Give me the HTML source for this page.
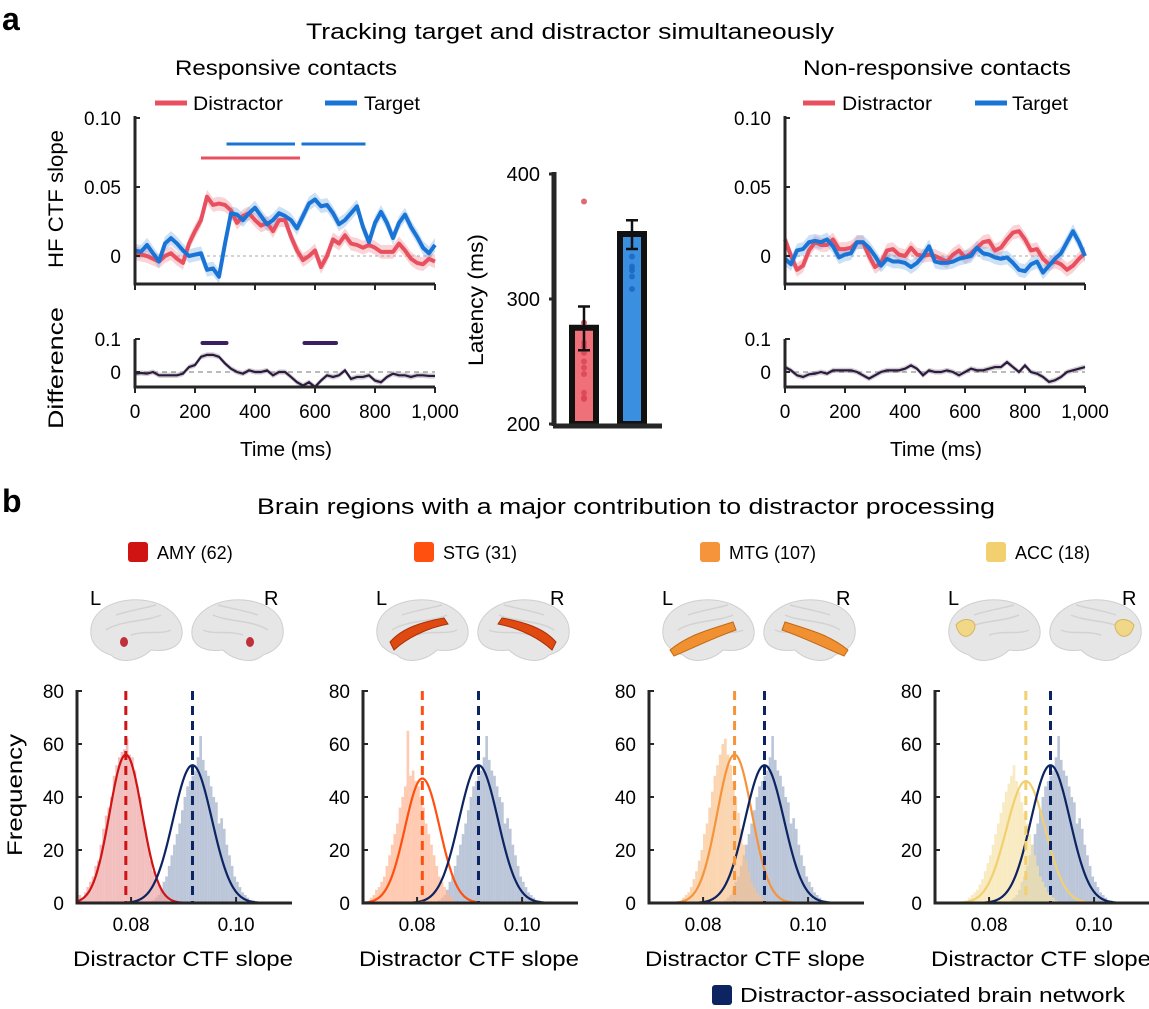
<!DOCTYPE html>
<html><head><meta charset="utf-8"><style>
body{margin:0;background:#fff}
svg{display:block;font-family:"Liberation Sans",Arial,sans-serif}
</style></head><body>
<svg id="fig" width="1149" height="1009" viewBox="0 0 1149 1009">
<text x="2" y="30" font-size="32" font-weight="bold">a</text>
<text x="570" y="39" font-size="22" text-anchor="middle" textLength="528" lengthAdjust="spacingAndGlyphs">Tracking target and distractor simultaneously</text>
<text x="286" y="75" font-size="21" text-anchor="middle" textLength="222" lengthAdjust="spacingAndGlyphs">Responsive contacts</text>
<text x="937" y="75" font-size="21" text-anchor="middle" textLength="268" lengthAdjust="spacingAndGlyphs">Non-responsive contacts</text>
<g>
<line x1="155" y1="103" x2="187" y2="103" stroke="#e8505f" stroke-width="5"/><text x="193" y="110" font-size="19" textLength="90" lengthAdjust="spacingAndGlyphs">Distractor</text>
<line x1="325" y1="103" x2="357" y2="103" stroke="#1a74d6" stroke-width="5"/><text x="364" y="110" font-size="19" textLength="56" lengthAdjust="spacingAndGlyphs">Target</text>
</g>
<g>
<line x1="803" y1="103" x2="835" y2="103" stroke="#e8505f" stroke-width="5"/><text x="842" y="110" font-size="19" textLength="90" lengthAdjust="spacingAndGlyphs">Distractor</text>
<line x1="975" y1="103" x2="1007" y2="103" stroke="#1a74d6" stroke-width="5"/><text x="1012" y="110" font-size="19" textLength="56" lengthAdjust="spacingAndGlyphs">Target</text>
</g>
<text transform="translate(63,199) rotate(-90)" font-size="21" text-anchor="middle" textLength="138" lengthAdjust="spacingAndGlyphs">HF CTF slope</text>
<text transform="translate(63,368) rotate(-90)" font-size="21" text-anchor="middle" textLength="122" lengthAdjust="spacingAndGlyphs">Difference</text>
<text x="286" y="456" font-size="20" text-anchor="middle" textLength="92" lengthAdjust="spacingAndGlyphs">Time (ms)</text>
<text x="936" y="456" font-size="20" text-anchor="middle" textLength="92" lengthAdjust="spacingAndGlyphs">Time (ms)</text>
<text transform="translate(483,300) rotate(-90)" font-size="21" text-anchor="middle" textLength="132" lengthAdjust="spacingAndGlyphs">Latency (ms)</text>
<text x="2" y="512" font-size="32" font-weight="bold">b</text>
<text x="626" y="514" font-size="22" text-anchor="middle" textLength="738" lengthAdjust="spacingAndGlyphs">Brain regions with a major contribution to distractor processing</text>
<text transform="translate(22,795) rotate(-90)" font-size="21" text-anchor="middle" textLength="122" lengthAdjust="spacingAndGlyphs">Frequency</text>
<rect x="712" y="985" width="20" height="20" rx="3" fill="#0c2461"/>
<text x="740" y="1002" font-size="20" textLength="385" lengthAdjust="spacingAndGlyphs">Distractor-associated brain network</text>
<g id="g"></g>
</svg>
<script>
// ---- Panel a data (20 ms steps, 0..1000 ms) ----
const timeTicks=[0,200,400,600,800,1000];
const timeTickLabels=["0","200","400","600","800","1,000"];
const leftDistractor=[0.002,0.001,0,-0.002,-0.004,0,0.002,-0.002,-0.005,0.009,0.018,0.026,0.043,0.037,0.038,0.037,0.033,0.024,0.029,0.031,0.026,0.022,0.024,0.018,0.026,0.026,0.014,0.004,-0.003,0,0.004,-0.008,0,0.012,0.009,0.015,0.009,0.008,0.006,0.008,0.006,0.003,0.003,0.003,0.009,0.004,-0.002,-0.005,-0.006,-0.002,-0.004];
const leftTarget=[0.004,0.003,0.008,0.002,-0.004,0.009,0.013,0.009,0.004,0,0.001,0.002,-0.010,-0.009,-0.015,0.009,0.031,0.030,0.026,0.031,0.035,0.029,0.023,0.026,0.031,0.029,0.026,0.020,0.029,0.038,0.041,0.036,0.037,0.031,0.023,0.026,0.031,0.036,0.021,0.010,0.024,0.032,0.024,0.013,0.024,0.030,0.021,0.014,0.006,0.002,0.008];
const leftDiff=[-0.005,-0.003,-0.005,0,-0.010,-0.010,-0.010,-0.010,-0.005,0.015,0.021,0.046,0.052,0.052,0.046,0.026,0.010,0,-0.005,0.005,0,0,0.005,-0.010,0,0,-0.015,-0.031,-0.041,-0.031,-0.045,-0.026,-0.010,-0.015,-0.010,0.005,-0.021,-0.015,-0.015,-0.010,-0.026,-0.031,-0.015,-0.005,-0.010,-0.010,-0.015,-0.010,-0.010,-0.012,-0.012];
const rightDistractor=[0.012,0,-0.010,-0.007,0.004,0.010,0.008,0.008,0.012,0.005,0.005,0.006,0.010,0.010,0,-0.008,-0.005,0.004,0.005,0.001,0,0.006,0.001,0,0.001,0,-0.002,-0.004,0.001,0.004,-0.001,0.002,0.006,0.010,0.011,0.004,0.006,0.012,0.017,0.018,0.012,0.004,0.005,-0.002,-0.006,-0.004,-0.006,-0.010,-0.007,-0.002,0.002];
const rightTarget=[-0.002,-0.006,0.004,0.005,0.010,0.011,0.010,0.012,0.007,-0.001,0.001,0.002,0.010,0.010,0.006,0,-0.007,-0.002,-0.004,-0.004,-0.005,-0.008,-0.005,0,0.007,-0.004,-0.005,-0.005,-0.004,-0.002,-0.001,0,0.006,0.002,0.001,-0.001,-0.002,-0.001,-0.005,-0.010,-0.011,-0.006,-0.004,-0.012,-0.007,-0.002,0.002,0.010,0.018,0.010,0];
const rightDiff=[0.015,0.005,-0.010,-0.015,-0.007,-0.005,0,-0.005,0.005,0.005,0.005,0.005,0,-0.010,-0.020,-0.010,0,0.005,0.005,0.005,0.010,0.020,0.010,-0.010,0.005,0,0,0.005,0,-0.010,0,0.010,0.005,0.005,0.010,0.015,0.015,0.030,0.015,0,0.020,0,-0.005,-0.015,-0.030,-0.025,-0.015,0,0.005,0.010,0.015];
const sigDistractor=[[220,550]];
const sigTarget=[[305,540],[555,775]];
const sigDiff=[[225,305],[565,670]];
// latency bars
const latencyCats=["Distractor","Target"];
const latencyMeans=[277,352];
const latencyErrLow=[259,340];
const latencyErrHigh=[294,363];
const latencyDotsD=[378,281,265,262,257,250,245,240,225,221,220];
const latencyDotsT=[334,326,323,318,308];
const latencyTicks=[200,300,400];
// ---- Panel b data ----
const regionNames=["AMY (62)","STG (31)","MTG (107)","ACC (18)"];
const regionColors=["#d01414","#ff5010","#f5943a","#f2d070"];
const regionFill=["#eea2a2","#ffb490","#f9c28e","#f7e2a6"];
const regionMean=[0.079,0.081,0.086,0.087];
const regionSD=[0.0031,0.0033,0.0033,0.0037];
const regionPeak=[56,47,56,46];
const regionHistStart=[0.070,0.071,0.076,0.076];
const regionHist=[
[3,2,4,6,8,10,14,16,22,28,33,36,40,48,52,55,57,58,62,56,55,50,44,40,32,28,22,16,12,8,7,5,3,2],
[2,3,5,6,8,10,14,18,22,26,30,36,40,44,65,48,50,46,44,40,36,30,26,22,18,14,10,8,6,4,3,2],
[2,3,4,6,9,12,16,20,26,30,36,42,48,52,56,60,62,56,52,46,40,34,28,22,16,12,8,6,4,3,2,1],
[2,3,4,5,7,9,12,15,18,22,26,30,34,38,42,45,48,52,46,42,38,34,30,26,22,18,14,10,8,6,4,3,2,1]];
const networkMean=0.0917, networkSD=0.0037, networkPeak=52;
const networkHistStart=0.084;
const networkHist=[1,2,3,5,8,10,14,18,22,26,30,35,40,44,46,48,50,55,63,54,50,48,44,40,38,30,32,28,22,18,14,10,8,6,4,3,2,1,1,0];
const freqTicks=[0,20,40,60,80];
const slopeTicks=[0.08,0.10];
const binW=0.0005;

const NS="http://www.w3.org/2000/svg";
const G=document.getElementById('g');
function el(tag,attrs,parent,txt){const e=document.createElementNS(NS,tag);for(const k in attrs)e.setAttribute(k,attrs[k]);if(txt!==undefined)e.textContent=txt;(parent||G).appendChild(e);return e;}
const AX="#262626";

function timePanel(x0,dist,targ,diff,sigs){
  const xs=t=>x0+t*0.3;
  const ys=v=>256-v*1380;
  const yd=v=>372-v*330;
  const g=el('g',{});
  
  
  el('line',{x1:x0,y1:256,x2:x0+300,y2:256,stroke:"#aaa","stroke-dasharray":"3,3","stroke-width":1},g);
  el('line',{x1:x0,y1:yd(0),x2:x0+300,y2:yd(0),stroke:"#777","stroke-dasharray":"5,4","stroke-width":1},g);
  const series=[[dist,"#e8505f","rgba(240,130,140,0.35)",'distractor-line'],[targ,"#1a74d6","rgba(110,170,230,0.35)",'target-line']];
  series.forEach(([arr,c,f,nm])=>{
    const up=arr.map((v,i)=>xs(i*20)+","+ys(v+0.005)).join(" ");
    const dn=arr.map((v,i)=>xs(i*20)+","+ys(v-0.005)).reverse().join(" ");
    el('polygon',{points:up+" "+dn,fill:f},g);
  });
  series.forEach(([arr,c,f,nm])=>{
    const p=el('polyline',{points:arr.map((v,i)=>xs(i*20)+","+ys(v)).join(" "),fill:"none",stroke:c,"stroke-width":4,"stroke-linejoin":"round"},g);
    
    
  });
  const up=diff.map((v,i)=>xs(i*20)+","+yd(v+0.008)).join(" ");
  const dn=diff.map((v,i)=>xs(i*20)+","+yd(v-0.008)).reverse().join(" ");
  el('polygon',{points:up+" "+dn,fill:"rgba(150,150,150,0.45)"},g);
  const dl=el('polyline',{points:diff.map((v,i)=>xs(i*20)+","+yd(v)).join(" "),fill:"none",stroke:"#2e1a40","stroke-width":2.2},g);
  
  
  if(sigs){
    sigs[0].forEach(s=>{const l=el('line',{x1:xs(s[0]),x2:xs(s[1]),y1:158,y2:158,stroke:"#e8505f","stroke-width":3},g);});
    sigs[1].forEach(s=>{const l=el('line',{x1:xs(s[0]),x2:xs(s[1])-2,y1:144,y2:144,stroke:"#1a74d6","stroke-width":3},g);});
    sigs[2].forEach(s=>{const l=el('line',{x1:xs(s[0]),x2:xs(s[1]),y1:343,y2:343,stroke:"#3b2060","stroke-width":4,"stroke-linecap":"round"},g);});
  }
  el('path',{d:`M${x0},116 V284 H${x0+300}`,fill:"none",stroke:AX,"stroke-width":3},g);
  el('path',{d:`M${x0},339 V387 H${x0+300}`,fill:"none",stroke:AX,"stroke-width":3},g);
  [0.10,0.05,0].forEach((v,i)=>{el('line',{x1:x0,x2:x0+5,y1:ys(v),y2:ys(v),stroke:AX,"stroke-width":2},g);
    el('text',{x:x0-14,y:ys(v)+7,"font-size":19,"text-anchor":"end"},g,["0.10","0.05","0"][i]);});
  [0.1,0].forEach((v,i)=>{el('line',{x1:x0,x2:x0+5,y1:yd(v),y2:yd(v),stroke:AX,"stroke-width":2},g);
    el('text',{x:x0-14,y:yd(v)+7,"font-size":19,"text-anchor":"end"},g,["0.1","0"][i]);});
  timeTicks.forEach((t,i)=>{
    el('line',{x1:xs(t),x2:xs(t),y1:284,y2:290,stroke:AX,"stroke-width":2},g);
    el('line',{x1:xs(t),x2:xs(t),y1:387,y2:393,stroke:AX,"stroke-width":2},g);
    el('text',{x:xs(t),y:418,"font-size":19,"text-anchor":"middle"},g,timeTickLabels[i]);
  });
}
timePanel(135,leftDistractor,leftTarget,leftDiff,[sigDistractor,sigTarget,sigDiff]);
timePanel(785,rightDistractor,rightTarget,rightDiff,null);

(function(){
  const ys=v=>424-(v-200)*1.25;
  const bx=[584,632];
  const cols=["#ef7078","#3a8fe0"];
  const g=el('g',{});
  
  
  latencyMeans.forEach((m,i)=>{
    const r=el('rect',{x:bx[i]-12,y:ys(m),width:24,height:ys(200)-ys(m),fill:cols[i],stroke:"#111","stroke-width":6},g);
    
    
  });
  latencyDotsD.forEach(v=>el('circle',{cx:bx[0],cy:ys(v),r:3,fill:"#d94455","fill-opacity":0.8},g));
  latencyDotsT.forEach(v=>el('circle',{cx:bx[1],cy:ys(v),r:3,fill:"#1a64c0","fill-opacity":0.8},g));
  latencyMeans.forEach((m,i)=>{
    el('path',{d:`M${bx[i]},${ys(latencyErrLow[i])}V${ys(latencyErrHigh[i])}M${bx[i]-6},${ys(latencyErrLow[i])}h12M${bx[i]-6},${ys(latencyErrHigh[i])}h12`,stroke:"#111","stroke-width":2.5,fill:"none"},g);
  });
  el('path',{d:`M554,172V426M553,426H662`,stroke:AX,"stroke-width":5,fill:"none"},g);
  latencyTicks.forEach(t=>{el('line',{x1:549,x2:556,y1:ys(t),y2:ys(t),stroke:AX,"stroke-width":3},g);
    el('text',{x:540,y:ys(t)+7,"font-size":20,"text-anchor":"end"},g,String(t));});
})();

function gauss(x,m,s,p){return p*Math.exp(-0.5*((x-m)/s)**2);}
regionNames.forEach((name,k)=>{
  const ox=k*286;
  const g=el('g',{});
  
  
  const sw=el('rect',{x:128+ox,y:542,width:20,height:20,rx:3,fill:regionColors[k]},g);
  
  
  el('text',{x:157+ox,y:559,"font-size":18},g,name);
  el('text',{x:90+ox,y:605,"font-size":20},g,"L");
  el('text',{x:264+ox,y:605,"font-size":20},g,"R");
  [[136,1],[238,-1]].forEach(([cx,dir])=>{
    const b=el('g',{transform:`translate(${cx+ox},630) scale(${dir},1)`},g);
    
    
    el('path',{d:"M-45,5 C-48,-20 -20,-32 5,-30 C30,-28 48,-12 46,5 C44,18 30,22 15,20 C5,30 -15,35 -25,25 C-35,22 -44,15 -45,5Z",fill:"#e6e6e6",stroke:"#cfcfcf","stroke-width":1},b);
    el('path',{d:"M-30,0 C-15,-10 10,-8 25,-15 M-20,-15 C-5,-20 10,-22 20,-25 M-5,5 C10,0 25,5 35,0",fill:"none",stroke:"#d2d2d2","stroke-width":1.5},b);
    if(k===0) el('ellipse',{cx:-12,cy:12,rx:4,ry:5,fill:"#c0303a"},b);
    if(k===1) el('path',{d:"M-32,12 C-20,-2 0,-8 22,-12 L26,-6 C5,-2 -15,8 -28,20Z",fill:"#e04a10",stroke:"#a83008"},b);
    if(k===2) el('path',{d:"M-38,20 C-20,5 0,0 25,-8 L28,0 C5,8 -15,18 -34,26Z",fill:"#f09030",stroke:"#c06a18"},b);
    if(k===3) el('path',{d:"M-38,-5 C-30,-15 -15,-10 -20,0 C-25,10 -35,8 -38,-5Z",fill:"#f0d888",stroke:"#d4b460"},b);
  });
  const x0=77+ox;
  const xs=v=>x0+(v-0.0697)*5250;
  const ys=v=>903-v*2.65;
  networkHist.forEach((c,i)=>{
    const v=networkHistStart+i*binW;
    const r=el('rect',{x:xs(v),y:ys(c),width:binW*5250,height:c*2.65,fill:"#8ea0c0","fill-opacity":0.6},g);
    
    
  });
  regionHist[k].forEach((c,i)=>{
    const v=regionHistStart[k]+i*binW;
    const r=el('rect',{x:xs(v),y:ys(c),width:binW*5250,height:c*2.65,fill:regionFill[k],"fill-opacity":0.7},g);
    
    
  });
  const pts1=[],pts2=[];
  for(let i=0;i<=200;i++){const v=0.0697+i*0.0002;
    pts1.push(xs(v)+","+ys(gauss(v,regionMean[k],regionSD[k],regionPeak[k])));
    pts2.push(xs(v)+","+ys(gauss(v,networkMean,networkSD,networkPeak)));}
  const inR=p=>{const x=+p.split(',')[0];return x>=x0&&x<=x0+215;};
  const f1=el('polyline',{points:pts1.filter(inR).join(" "),fill:"none",stroke:regionColors[k],"stroke-width":2.2},g);
  
  
  const f2=el('polyline',{points:pts2.filter(inR).join(" "),fill:"none",stroke:"#0c2461","stroke-width":2.2},g);
  
  
  el('line',{x1:xs(regionMean[k]),x2:xs(regionMean[k]),y1:691,y2:903,stroke:regionColors[k],"stroke-width":3,"stroke-dasharray":"9,6"},g);
  el('line',{x1:xs(networkMean),x2:xs(networkMean),y1:691,y2:903,stroke:"#0c2461","stroke-width":3,"stroke-dasharray":"9,6"},g);
  el('path',{d:`M${x0},690V903H${x0+215}`,fill:"none",stroke:AX,"stroke-width":3},g);
  freqTicks.forEach(t=>{el('line',{x1:x0,x2:x0+5,y1:ys(t),y2:ys(t),stroke:AX,"stroke-width":2},g);
    el('text',{x:x0-13,y:ys(t)+7,"font-size":19,"text-anchor":"end"},g,String(t));});
  slopeTicks.forEach(t=>{el('line',{x1:xs(t),x2:xs(t),y1:903,y2:897,stroke:AX,"stroke-width":2},g);
    el('text',{x:xs(t),y:931,"font-size":19,"text-anchor":"middle"},g,t.toFixed(2));});
  const xl=el('text',{x:x0+106,y:966,"font-size":21,"text-anchor":"middle",textLength:220,lengthAdjust:"spacingAndGlyphs"},g,"Distractor CTF slope");
  
  
});
</script>
</body></html>
